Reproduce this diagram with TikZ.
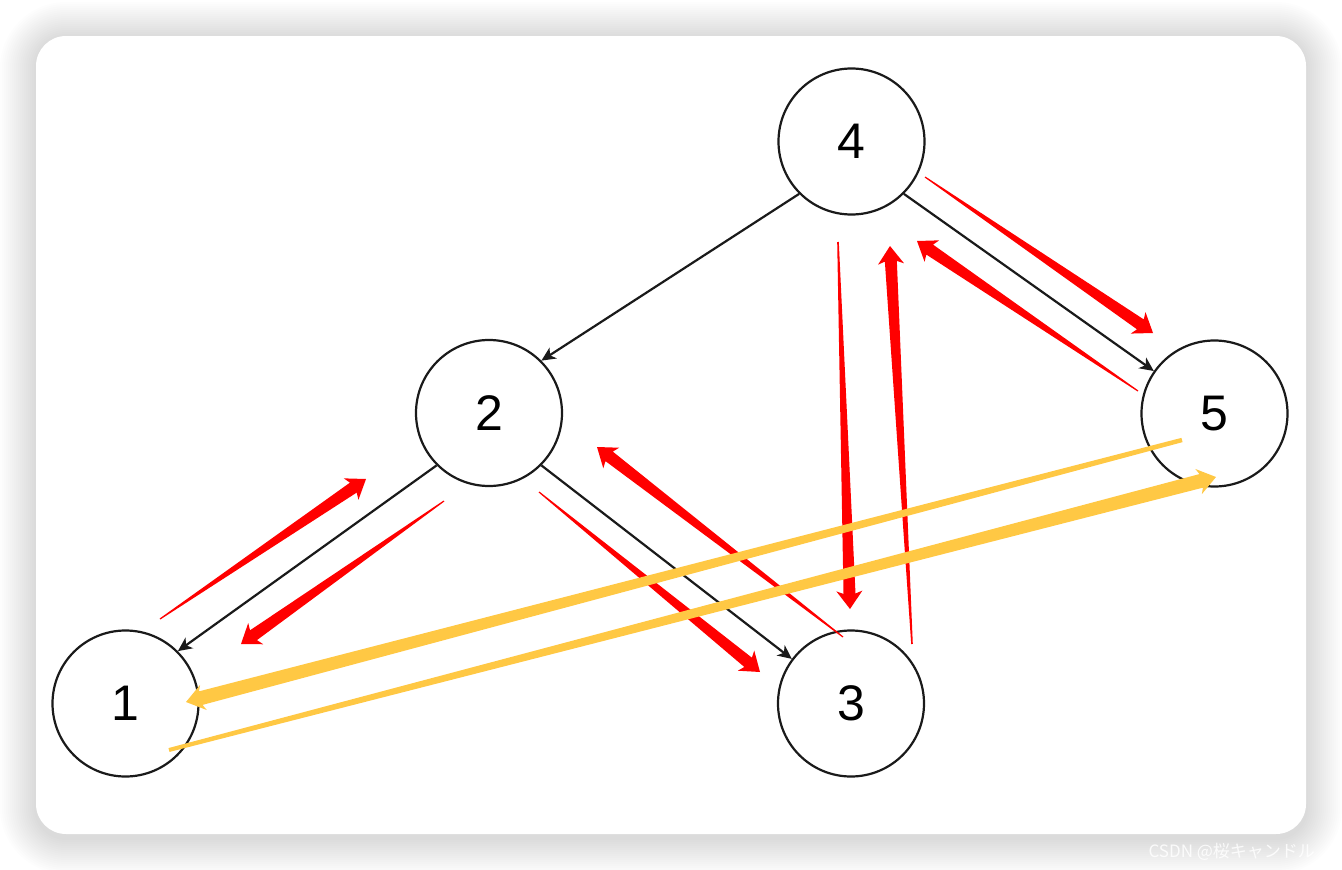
\documentclass[tikz,border=0pt]{standalone}
\usepackage{fontspec}
\setmainfont{Liberation Sans}
\newfontfamily\cjkfont{Noto Sans CJK JP}
\usetikzlibrary{calc,arrows.meta}
\definecolor{ink}{HTML}{1A1A1A}
\definecolor{hot}{HTML}{FF0000}
\definecolor{gold}{HTML}{FFC844}
\tikzset{
  vert/.style   ={circle, draw=ink, line width=2.2pt, minimum size=146pt,
                  inner sep=0pt, font=\fontsize{50}{58}\selectfont},
  link/.style   ={-{Stealth[length=14pt,width=13pt,inset=4pt]}, draw=ink,
                  line width=2.2pt},
  % hand-drawn style pointers
  redflow/.style ={fill=hot},
  goldflow/.style={fill=gold},
}
% tapered pointer: style, tail, tip, tail half width, shaft half width,
% head half width, head length
\newcommand{\taper}[7]{%
  \coordinate (hb) at ($(#3)!#7!(#2)$);
  \coordinate (hj) at ($(#3)!0.85!(hb)$);
  \fill[#1] ($(#2)!#4!90:(#3)$) -- ($(hj)!#5!-90:(#2)$) -- ($(hb)!#6!-90:(#2)$)
    -- (#3) -- ($(hb)!#6!90:(#2)$) -- ($(hj)!#5!90:(#2)$)
    -- ($(#2)!#4!-90:(#3)$) -- cycle;
}

\begin{document}
\begin{tikzpicture}[x=1pt, y=-1pt]
    \useasboundingbox (0,0) rectangle (1342,870);
    \fill[white] (0,0) rectangle (1342,870);
    % card shadow
    \foreach \s [evaluate=\s as \r using 30+\s] in {2,4,...,36}
      \fill[black, opacity=0.007, rounded corners=\r pt]
        (36-\s,38-\s) rectangle (1306+\s,838+\s);
    \fill[white, rounded corners=30pt] (36,36) rectangle (1306,834);
    % graph
    \node[vert] (v4) at (851.5,141.5) {4};
    \node[vert] (v2) at (489,413)     {2};
    \node[vert] (v5) at (1214.5,413.5) {5};
    \node[vert] (v1) at (125.5,703.5) {1};
    \node[vert] (v3) at (851,703.5)   {3};
    \draw[link] (v4.225) -- (v2.45);
    \draw[link] (v4.315) -- (v5.145);
    \draw[link] (v2.225) -- (v1.45);
    \draw[link] (v2.315) -- (v3.143);
    % red traversal
    \taper{redflow}{160,619}{366,479}{0.6pt}{6pt}{13pt}{18pt}
    \taper{redflow}{444,501}{241,644}{0.6pt}{6pt}{13pt}{18pt}
    \taper{redflow}{539,492}{760,672}{0.6pt}{6pt}{13pt}{18pt}
    \taper{redflow}{843,637}{597,447}{0.6pt}{6pt}{13pt}{18pt}
    \taper{redflow}{838,242}{850,609}{0.8pt}{6pt}{13pt}{18pt}
    \taper{redflow}{912,644}{890,246}{0.8pt}{6pt}{13pt}{18pt}
    \taper{redflow}{925,177}{1153,333}{0.6pt}{6pt}{13pt}{18pt}
    \taper{redflow}{1138,391}{917,241}{0.6pt}{6pt}{13pt}{18pt}
    % yellow jumps
    \taper{goldflow}{1182,440}{186,702}{2.2pt}{7pt}{13pt}{18pt}
    \taper{goldflow}{169,750}{1216,477}{2pt}{7pt}{13pt}{18pt}
    \node[anchor=base west, text=white, opacity=0.85,
          font=\cjkfont\fontsize{17}{20}\selectfont] (mark) at (1145,857)
      {CSDN @桜キャンドル};
  \end{tikzpicture}
\end{document}
